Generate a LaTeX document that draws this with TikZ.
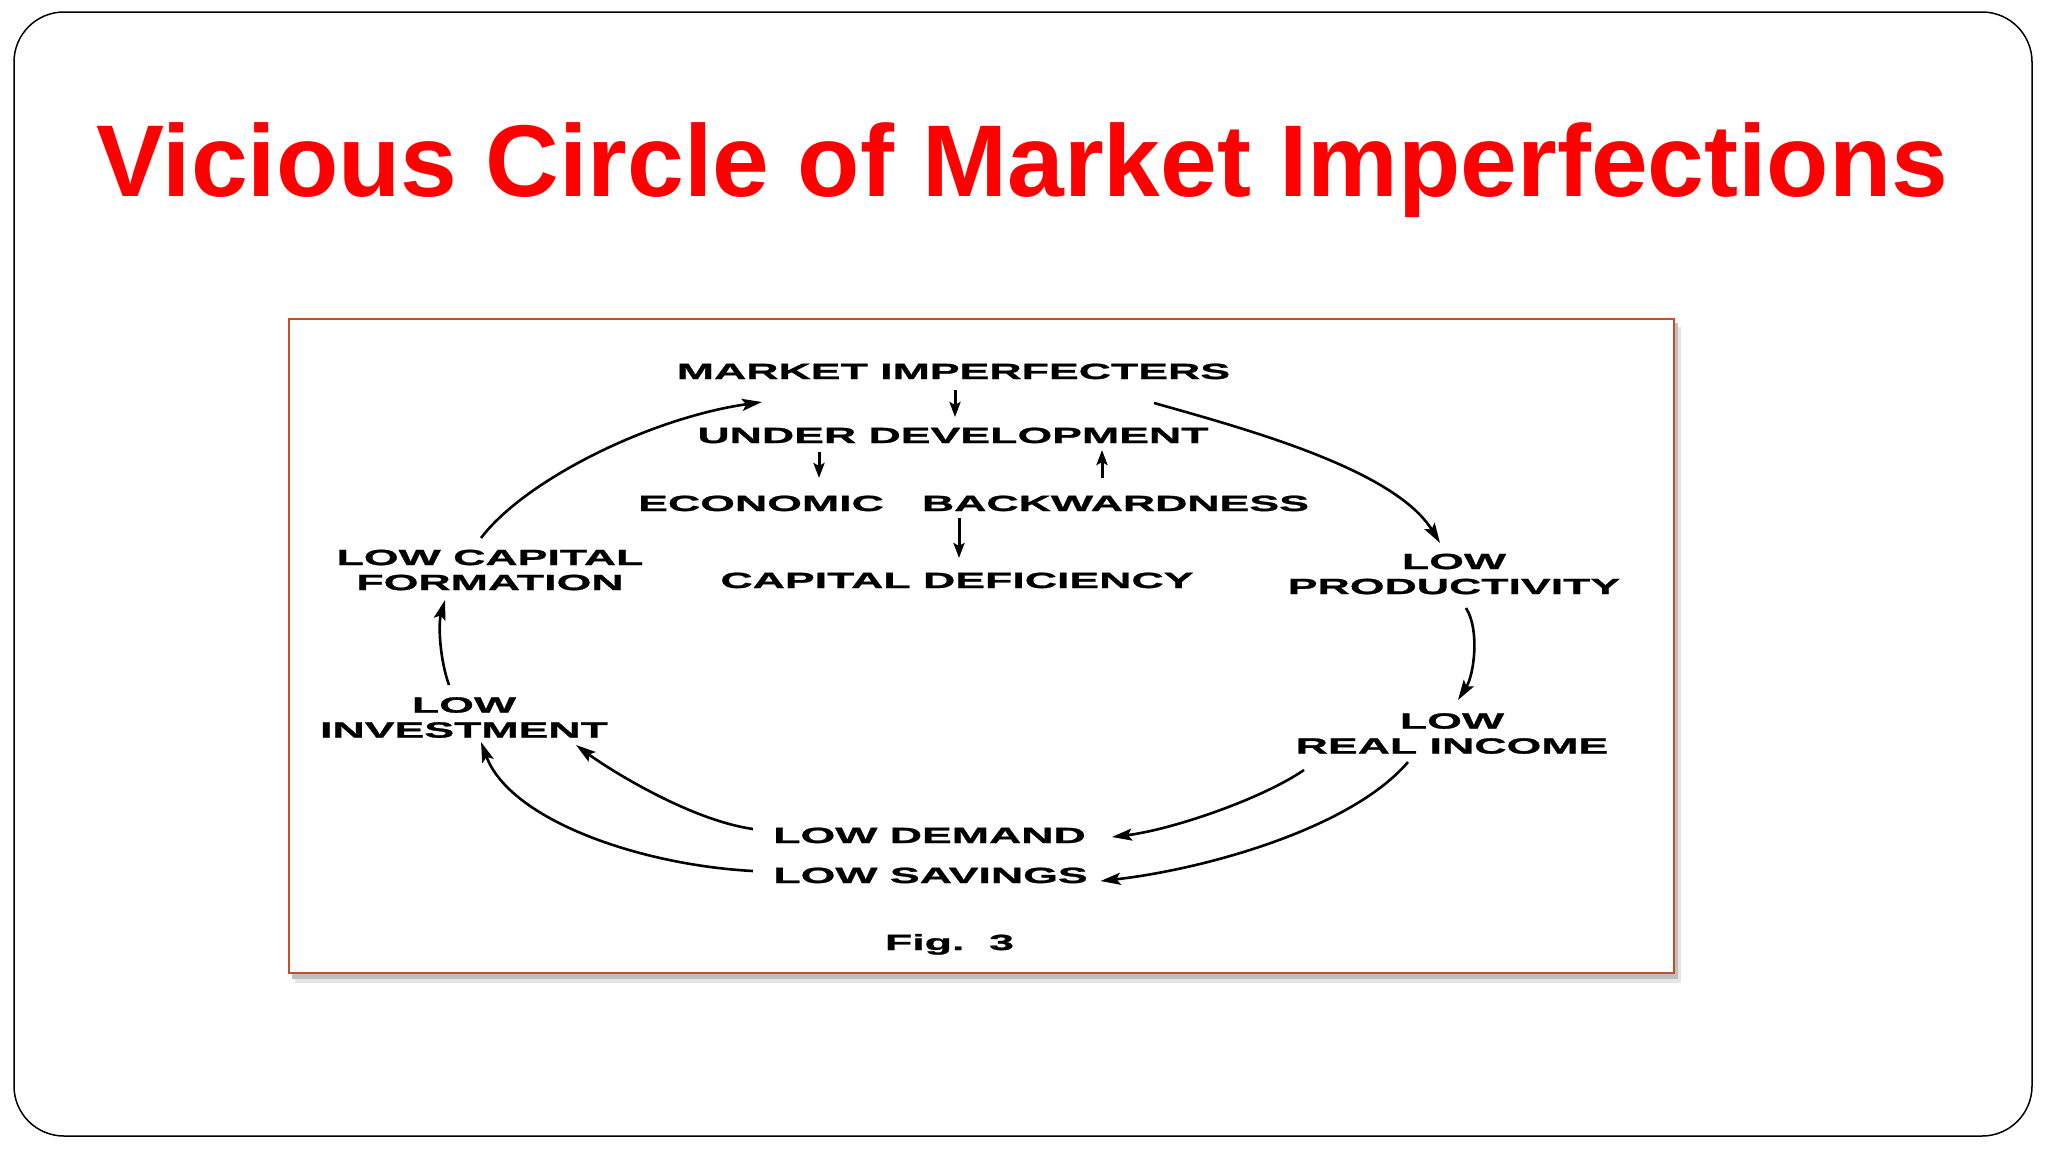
\documentclass[tikz,border=0pt]{standalone}
\usepackage{fontspec}
\setmainfont{Liberation Sans}
\newfontfamily\dfont[FakeStretch=2.03,FakeBold=1.2]{Liberation Sans}
\usetikzlibrary{arrows.meta,calc}
\definecolor{titlered}{RGB}{255,0,0}
\definecolor{boxedge}{RGB}{192,80,40}
\tikzset{
  lbl/.style={font=\dfont\bfseries\fontsize{22}{25}\selectfont, inner sep=0pt, text height=16pt, text depth=0pt},
  lbltwo/.style={font=\dfont\bfseries\fontsize{22}{25}\selectfont, inner sep=0pt, align=center},
  arr/.style={line width=2.6pt, -{Stealth[length=20pt,width=12pt,inset=4pt]}},
  sarr/.style={line width=3pt, -{Stealth[length=15pt,width=11pt,inset=3pt]}},
}
\begin{document}
\begin{tikzpicture}[x=1pt,y=-1pt]
\useasboundingbox (0,0) rectangle (2048,1152);
\fill[white] (0,0) rectangle (2048,1152);
\draw[line width=1.5pt, rounded corners=50pt] (14,12) rectangle (2032,1136);
\node[font=\bfseries\fontsize{102}{110}\selectfont, text=titlered, anchor=base, inner sep=0pt] (title) at (1022.5,196) {Vicious Circle of Market Imperfections};
% panel with shadow
\fill[gray!20] (295,327) rectangle (1681,983);
\fill[gray!50] (292,323) rectangle (1678,979);
\draw[boxedge, line width=2.5pt, fill=white] (289,319) rectangle (1674,973);
% labels
\node[lbl] (mi) at (953.5,371) {MARKET IMPERFECTERS};
\node[lbl] (ud) at (953,435) {UNDER DEVELOPMENT};
\node[lbl] (econ) at (761,503) {ECONOMIC};
\node[lbl] (back) at (1115.5,503) {BACKWARDNESS};
\node[lbl] (cd) at (957,580) {CAPITAL DEFICIENCY};
\node[lbltwo] (lcf) at (490,570) {LOW CAPITAL\\FORMATION};
\node[lbltwo] (li) at (464,717.5) {LOW\\INVESTMENT};
\node[lbltwo] (lp) at (1454,574) {LOW\\PRODUCTIVITY};
\node[lbltwo] (lri) at (1452,733.5) {LOW\\REAL INCOME};
\node[lbl] (ld) at (929.5,835) {LOW DEMAND};
\node[lbl] (ls) at (930.5,875) {LOW SAVINGS};
\node[lbl] (fig) at (949.5,942) {Fig.\ \ 3};
% circle arrows
\draw[arr] ($(lcf)+(-9,-32)$) .. controls (525,480) and (650,418) .. ($(mi)+(-191.5,31)$);
\draw[arr] ($(mi)+(200.5,32)$) .. controls (1250,430) and (1395,470) .. ($(lp)+(-14,-31)$);
\draw[arr] ($(lp)+(12,34)$) .. controls (1480,630) and (1474,675) .. ($(lri)+(6,-33.5)$);
\draw[arr] ($(lri)+(-148,36.5)$) .. controls (1260,800) and (1170,830) .. ($(ld)+(182.5,2)$);
\draw[arr] ($(lri)+(-44,28.5)$) .. controls (1350,830) and (1200,870) .. ($(ls)+(170,6)$);
\draw[arr] ($(ld)+(-176.5,-6)$) .. controls (690,820) and (610,770) .. ($(li)+(112,27.5)$);
\draw[arr] ($(ls)+(-177.5,-4)$) .. controls (640,865) and (510,820) .. ($(li)+(17,24.5)$);
\draw[arr] ($(li)+(-15,-32.5)$) .. controls (440,660) and (438,625) .. ($(lcf)+(-45,30)$);
% inner short arrows
\draw[sarr] ($(mi)+(1.5,19)$) -- ($(ud)+(2,-18)$);
\draw[sarr] ($(ud)+(-134,17)$) -- ($(econ)+(58,-25)$);
\draw[sarr] ($(back)+(-13.5,-25)$) -- ($(ud)+(149,15)$);
\draw[sarr] ($(back)+(-156.5,15)$) -- ($(cd)+(2,-22)$);
\end{tikzpicture}
\end{document}
